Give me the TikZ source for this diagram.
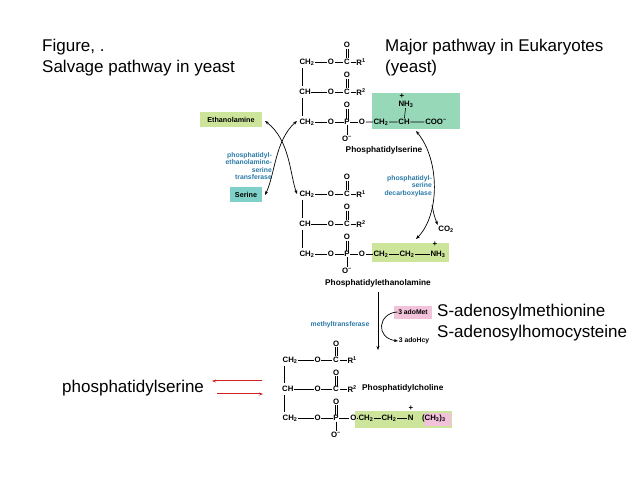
\documentclass[tikz,border=0pt]{standalone}
\usepackage{fontspec}
\setmainfont{Liberation Sans}
\usetikzlibrary{arrows.meta}
\definecolor{enz}{HTML}{2A7AA8}
\definecolor{tealbox}{HTML}{97D8B8}
\definecolor{lgreen}{HTML}{CCE59A}
\definecolor{serbox}{HTML}{7FD0C8}
\definecolor{pinkbox}{HTML}{F2C2DA}
\definecolor{redar}{HTML}{D02020}
\tikzset{
  atm/.style={inner sep=0.6pt,font=\fontsize{7.8}{8}\selectfont\bfseries},
  bond/.style={line width=0.6pt},
  big/.style={font=\fontsize{17}{19}\selectfont,anchor=west,inner sep=0pt},
  enzt/.style={font=\fontsize{6.8}{7.6}\selectfont\bfseries,text=enz,align=right,inner sep=0pt},
  lab/.style={font=\fontsize{8.3}{9}\selectfont\bfseries,inner sep=0pt},
  arr/.style={line width=0.7pt,-{Stealth[length=4pt,width=3pt]}},
  arr2/.style={line width=0.7pt,{Stealth[length=4pt,width=3pt]}-{Stealth[length=4pt,width=3pt]}},
}
\newcommand\glyc[1]{%
  \node[atm] (#1a1) at (7,0) {CH\textsubscript{2}};
  \node[atm] (#1o1) at (31,0) {O};
  \node[atm] (#1c1) at (47,0) {C};
  \node[atm] (#1r1) at (61,0) {R\textsuperscript{1}};
  \node[atm] (#1d1) at (47,-17) {O};
  \node[atm] (#1a2) at (5,30) {CH};
  \node[atm] (#1o2) at (31,30) {O};
  \node[atm] (#1c2) at (47,30) {C};
  \node[atm] (#1r2) at (61,30) {R\textsuperscript{2}};
  \node[atm] (#1d2) at (47,13) {O};
  \node[atm] (#1a3) at (7,60) {CH\textsubscript{2}};
  \node[atm] (#1o3) at (31,60) {O};
  \node[atm] (#1p) at (47,60) {P};
  \node[atm] (#1q) at (62,60) {O};
  \node[atm] (#1d3) at (47,43) {O};
  \node[atm] (#1m) at (47,77) {O\textsuperscript{−}};
  \draw[bond] (#1a1)--(#1o1) (#1o1)--(#1c1) (#1c1)--(#1r1)
    (#1a2)--(#1o2) (#1o2)--(#1c2) (#1c2)--(#1r2)
    (#1a3)--(#1o3) (#1o3)--(#1p) (#1p)--(#1q) (#1p)--(#1m);
  \draw[bond] ([xshift=-1pt]#1d1.south)--([xshift=-1pt]#1c1.north) ([xshift=1pt]#1d1.south)--([xshift=1pt]#1c1.north);
  \draw[bond] ([xshift=-1pt]#1d2.south)--([xshift=-1pt]#1c2.north) ([xshift=1pt]#1d2.south)--([xshift=1pt]#1c2.north);
  \draw[bond] ([xshift=-1pt]#1d3.south)--([xshift=-1pt]#1p.north) ([xshift=1pt]#1d3.south)--([xshift=1pt]#1p.north);
  \draw[bond] (2,6)--(2,24) (2,36)--(2,54);
}
\begin{document}
\begin{tikzpicture}[x=1pt,y=-1pt]
\useasboundingbox[fill=white] (0,0) rectangle (638,478);
% boxes
\fill[tealbox] (372,93) rectangle (460,129);
\fill[lgreen] (372,243) rectangle (449,262);
\fill[lgreen] (355,411) rectangle (452,428);
\fill[lgreen] (200,112) rectangle (262,127);
\fill[serbox] (230,187) rectangle (262,202);
\fill[pinkbox] (394,306) rectangle (432,319);
\fill[pinkbox] (424,413) rectangle (451,426);
% titles
\node[big] (t1) at (42,47) {Figure, .};
\node[big] (t2) at (42,68) {Salvage pathway in yeast};
\node[big] (t3) at (385,47) {Major pathway in Eukaryotes};
\node[big] (t4) at (385,68) {(yeast)};
\node[big] (t5) at (437,312) {S-adenosylmethionine};
\node[big] (t6) at (437,333) {S-adenosylhomocysteine};
\node[big] (t7) at (62,388) {phosphatidylserine};
% PS
\begin{scope}[shift={(300,62)}]
\glyc{s}
\node[atm] (sb) at (81,60) {CH\textsubscript{2}};
\node[atm] (sc) at (104,60) {CH};
\node[atm] (sd) at (136,60) {COO\textsuperscript{−}};
\node[atm] (sn) at (106,42) {NH\textsubscript{3}};
\node[atm] at (102,34) {+};
\draw[bond] (sq)--(sb) (sb)--(sc) (sc)--(sd) (sn)--(sc);
\end{scope}
\node[lab] (lps) at (384,150) {Phosphatidylserine};
% PE
\begin{scope}[shift={(300,194)}]
\glyc{e}
\node[atm] (eb) at (81,60) {CH\textsubscript{2}};
\node[atm] (ec) at (107,60) {CH\textsubscript{2}};
\node[atm] (en) at (138,60) {NH\textsubscript{3}};
\node[atm] at (135,50) {+};
\draw[bond] (eq)--(eb) (eb)--(ec) (ec)--(en);
\end{scope}
\node[lab] (lpe) at (378,283) {Phosphatidylethanolamine};
% PC
\begin{scope}[shift={(282,360)},x=1.15pt,y=-0.97pt]
\glyc{c}
\node[atm] (cb) at (73,60) {CH\textsubscript{2}};
\node[atm] (cc) at (93,60) {CH\textsubscript{2}};
\node[atm] (cn) at (112,60) {N};
\node[atm] at (112,50) {+};
\node[atm] (ck) at (132,60) {(CH\textsubscript{3})\textsubscript{3}};
\draw[bond] (cq)--(cb) (cb)--(cc) (cc)--(cn);
\end{scope}
\node[lab,anchor=west] (lpc) at (362,388) {Phosphatidylcholine};
% side labels
\node[lab,font=\fontsize{7.2}{8}\selectfont\bfseries] (eth) at (231,120) {Ethanolamine};
\node[lab,font=\fontsize{7.2}{8}\selectfont\bfseries] (ser) at (246,195) {Serine};
\node[enzt,anchor=east] (e1) at (272,166) {phosphatidyl-\\ethanolamine-\\serine\\transferase};
\node[enzt,anchor=east] (e2) at (432,186) {phosphatidyl-\\serine\\decarboxylase};
\node[enzt] (e3) at (340,325) {methyltransferase};
\node[atm] (co2) at (446,229) {CO\textsubscript{2}};
\node[atm,font=\fontsize{6.8}{7}\selectfont\bfseries] (met) at (413,312) {3 adoMet};
\node[atm,font=\fontsize{6.8}{7}\selectfont\bfseries] (hcy) at (414,341) {3 adoHcy};
% arrows
\coordinate (ethE) at (265,121);
\coordinate (serE) at (265,195);
\coordinate (psL) at (297,121);
\coordinate (peL) at (297,194);
\draw[arr2] (ethE) .. controls (290,140) and (290,175) .. (peL);
\draw[arr2] (serE) .. controls (275,175) and (275,140) .. (psL);
\coordinate (psB) at (416,131);
\coordinate (peB) at (416,239);
\draw[arr2] (psB) .. controls (440,160) and (440,215) .. (peB);
\coordinate (cob) at (432,205);
\draw[arr] (cob) .. controls (434,215) .. (co2.north west);
\coordinate (mt1) at (378,292);
\coordinate (mt2) at (378,350);
\draw[arr] (mt1) -- (mt2);
\draw[arr] (met.west) .. controls (378,313) and (375,338) .. (hcy.west);
\coordinate (ra1) at (262,381);
\coordinate (ra2) at (212,381);
\coordinate (rb1) at (217,394);
\coordinate (rb2) at (263,394);
\draw[redar,arr,line width=1pt] (ra1)--(ra2);
\draw[redar,arr,line width=1pt] (rb1)--(rb2);
\end{tikzpicture}
\end{document}
